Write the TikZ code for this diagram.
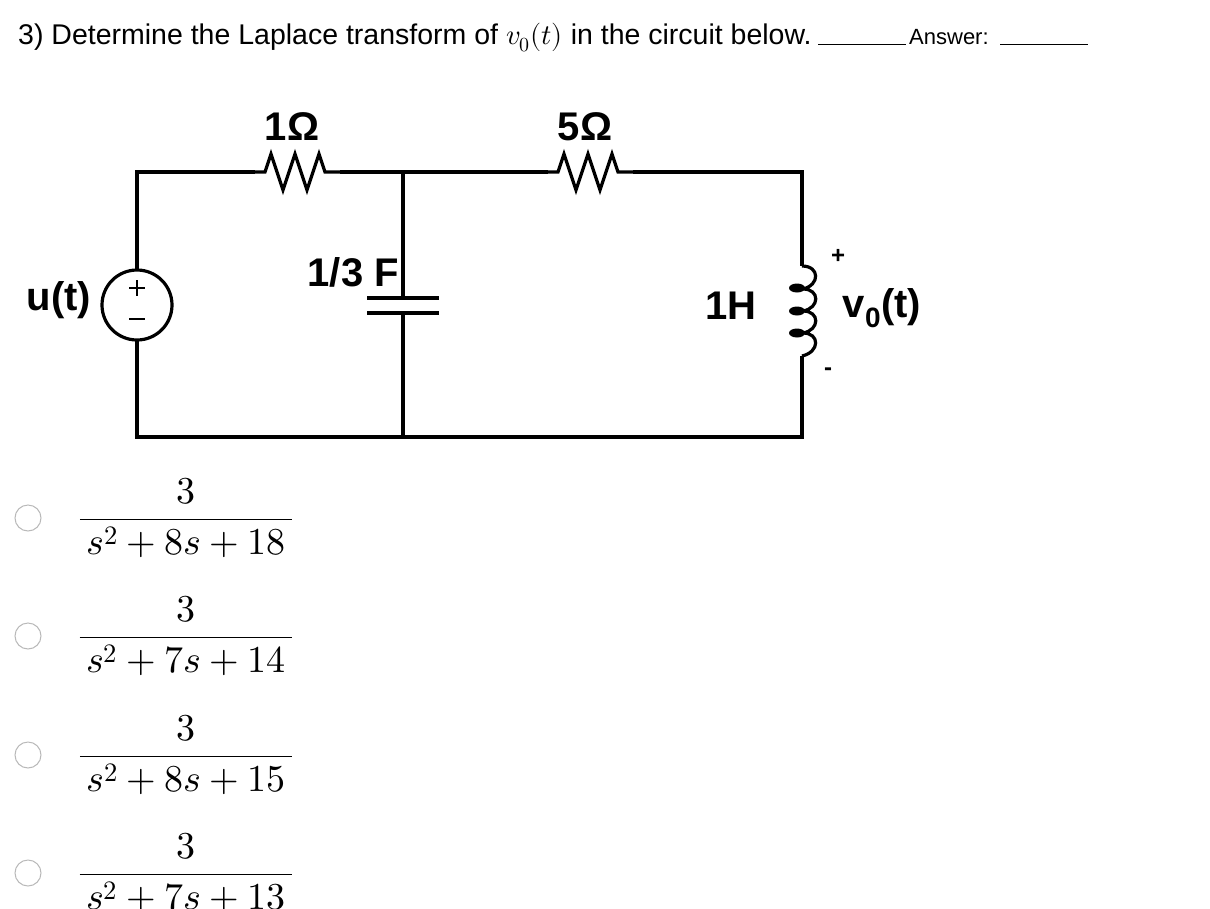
\documentclass[tikz,border=0pt]{standalone}
\usepackage{fontspec}
\setmainfont{Liberation Sans}
\usepackage{amsmath}
\usepackage{unicode-math}
\setmathfont{Latin Modern Math}
\begin{document}
\begin{tikzpicture}[x=1pt,y=-1pt,
  wire/.style={line width=3.2pt},
  lab/.style={font=\fontsize{40}{42}\selectfont\bfseries, inner sep=0pt},
  radio/.style={draw=gray!55, line width=1pt, fill=white},
  fr/.style={font=\fontsize{38}{40}\selectfont, inner sep=0pt}]
\useasboundingbox (0,0) rectangle (1210,908);
% title
\node[anchor=base west, inner sep=0pt, font=\fontsize{28.5}{30}\selectfont] (title) at (18,44) {3) Determine the Laplace transform of $v_0(t)$ in the circuit below.};
\coordinate (l1a) at (818,44); \coordinate (l1b) at (906,44);
\draw[line width=1pt] (l1a) -- (l1b);
\node[anchor=base west, inner sep=0pt, font=\fontsize{22}{24}\selectfont] (ans) at (909,44) {Answer:};
\coordinate (l2a) at (1000,44); \coordinate (l2b) at (1088,44);
\draw[line width=1pt] (l2a) -- (l2b);
% nodes of circuit
\coordinate (tl) at (137,172); \coordinate (tm) at (403,172); \coordinate (tr) at (802,172);
\coordinate (bl) at (137,437); \coordinate (bm) at (403,437); \coordinate (br) at (802,437);
\coordinate (s1) at (137,270); \coordinate (s2) at (137,340);
\coordinate (r1a) at (255,172); \coordinate (r1b) at (340,172);
\coordinate (r2a) at (548,172); \coordinate (r2b) at (633,172);
\coordinate (c1) at (403,298); \coordinate (c2) at (403,313);
\coordinate (la) at (802,266); \coordinate (lb) at (802,356);
% wires
\draw[wire] (s1) -- (tl) -- (r1a);
\draw[wire] (r1b) -- (r2a);
\draw[wire] (r2b) -- (tr) -- (la);
\draw[wire] (lb) -- (br) -- (bl) -- (s2);
\draw[wire] (tm) -- (c1); \draw[wire] (c2) -- (bm);
% resistors
\draw[wire, line join=miter] (r1a) -- ++(10,0) -- ++(6,-18) -- ++(12,36) -- ++(12,-36) -- ++(12,36) -- ++(12,-36) -- ++(6,18) -- (r1b);
\draw[wire, line join=miter] (r2a) -- ++(10,0) -- ++(6,-18) -- ++(12,36) -- ++(12,-36) -- ++(12,36) -- ++(12,-36) -- ++(6,18) -- (r2b);
% capacitor
\draw[wire] (367,298) -- (439,298);
\draw[wire] (367,313) -- (439,313);
% source
\node[draw, circle, line width=3.2pt, minimum size=70pt, inner sep=0pt] (src) at (137,305) {};
\draw[line width=1.4pt] (129,288) -- (145,288) (137,280) -- (137,296);
\draw[line width=1.4pt] (129,319) -- (145,319);
% inductor
\draw[wire] (la) .. controls (820,266) and (820,285) .. (803,289)
  .. controls (820,289) and (820,308) .. (803,311)
  .. controls (820,311) and (820,330) .. (803,333)
  .. controls (820,333) and (820,352) .. (lb);
\foreach \yy in {288,311,333} \fill (797,\yy) ellipse (8 and 4.5);
% labels
\node[lab] (lr1) at (292,127) {1Ω};
\node[lab] (lr2) at (585,127) {5Ω};
\node[lab, anchor=east] (lc) at (399,272) {1/3 F};
\node[lab] (lu) at (59,300) {u(t)};
\node[lab] (lL) at (731,306) {1H};
\node[lab] (lv) at (882,308) {v\textsubscript{0}(t)};
\node[lab, font=\fontsize{24}{26}\selectfont\bfseries] (lp) at (838,256) {+};
\node[lab, font=\fontsize{24}{26}\selectfont\bfseries] (lm) at (828,372) {-};
% answers
\foreach \yy/\d [count=\i] in {518/s^2+8s+18, 636/s^2+7s+14, 755/s^2+8s+15, 873/s^2+7s+13}{
  \node[radio, circle, minimum size=26pt, inner sep=0pt] (rb\i) at (28,\yy) {};
  \node[fr, anchor=center] (f\i) at (186,\yy) {$\dfrac{\,3\,}{\,\d\,}$};
}
\end{tikzpicture}
\end{document}
